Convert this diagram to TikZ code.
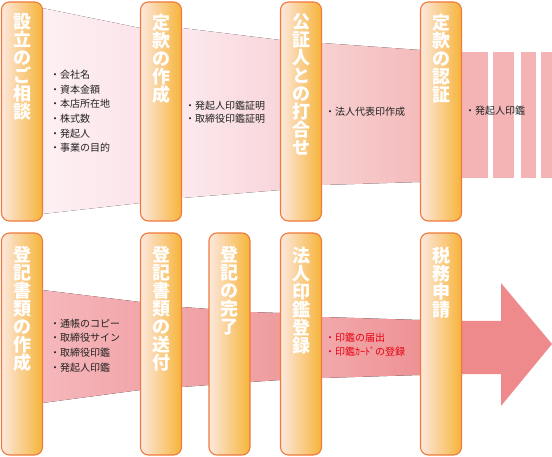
\documentclass[tikz,border=0pt]{standalone}
\usepackage{fontspec}
\setmainfont{Noto Sans CJK JP}
\definecolor{pillarline}{HTML}{EF7A3C}
\definecolor{pillarL}{HTML}{FDE8DE}
\definecolor{pillarR}{HTML}{F6B43A}
\definecolor{listtext}{HTML}{222222}
\definecolor{redtext}{HTML}{E60012}
\definecolor{ta1}{HTML}{FDF0F3}
\definecolor{ta2}{HTML}{FBE4EA}
\definecolor{tb1}{HTML}{FCE9EE}
\definecolor{tb2}{HTML}{F8D6DA}
\definecolor{tc1}{HTML}{F8D0D0}
\definecolor{tc2}{HTML}{F4BBBC}
\definecolor{td}{HTML}{F4B4B6}
\definecolor{ba1}{HTML}{F5B8BC}
\definecolor{ba2}{HTML}{F2A6AA}
\definecolor{bb1}{HTML}{F1A6A8}
\definecolor{bb2}{HTML}{F0A0A4}
\definecolor{bc1}{HTML}{F0A2A4}
\definecolor{bc2}{HTML}{EF9C9E}
\definecolor{bd1}{HTML}{F2A8AA}
\definecolor{bd2}{HTML}{EE9294}
\definecolor{arr}{HTML}{EE8A8C}
\begin{document}
\begin{tikzpicture}[x=1pt,y=-1pt,
  pillar/.style={draw=pillarline, line width=1.1pt, rounded corners=8pt,
    left color=pillarL, right color=pillarR, minimum width=41pt, inner sep=0pt},
  toppillar/.style={pillar, minimum height=219pt},
  botpillar/.style={pillar, minimum height=222pt},
  ptext/.style={anchor=north, inner sep=0pt, align=center, text=white,
    font=\fontsize{18}{18}\selectfont\bfseries},
  list/.style={anchor=west, inner sep=0pt, align=left, text=listtext,
    font=\fontsize{10}{14.6}\selectfont},
  redlist/.style={list, text=redtext, font=\fontsize{10}{14}\selectfont}
]
\useasboundingbox (0,0) rectangle (552,457);
% top band
\fill[left color=ta1, right color=ta2] (42,8) -- (140,28) -- (140,203) -- (42,214) -- cycle;
\fill[left color=tb1, right color=tb2] (182,28) -- (280,40) -- (280,190) -- (182,198) -- cycle;
\fill[left color=tc1, right color=tc2] (322,43) -- (420,50) -- (420,182) -- (322,185) -- cycle;
\fill[td] (462,52) rectangle (488,178);
\fill[td] (493,52) rectangle (514,178);
\fill[td] (521,52) rectangle (536,178);
\fill[td] (541,52) rectangle (552,178);
% bottom band
\fill[left color=ba1, right color=ba2] (42,290) -- (140,302) -- (140,390) -- (42,403) -- cycle;
\fill[left color=bb1, right color=bb2] (182,307) -- (209,309) -- (209,385) -- (182,387) -- cycle;
\fill[left color=bc1, right color=bc2] (250,312) -- (280,313) -- (280,380) -- (250,382) -- cycle;
\fill[left color=bd1, right color=bd2] (322,317) -- (420,320) -- (420,375) -- (322,378) -- cycle;
\fill[arr] (462,321) -- (501,321) -- (501,283) -- (552,344) -- (501,406) -- (501,374) -- (462,374) -- cycle;
% top pillars
\node[toppillar] (p1) at (22,111.5) {};
\node[toppillar] (p2) at (161,111.5) {};
\node[toppillar] (p3) at (301,111.5) {};
\node[toppillar] (p4) at (441,111.5) {};
\node[ptext] (t1) at ([yshift=-12pt]p1.north) {設\\立\\の\\ご\\相\\談};
\node[ptext] (t2) at ([yshift=-12pt]p2.north) {定\\款\\の\\作\\成};
\node[ptext] (t3) at ([yshift=-12pt]p3.north) {公\\証\\人\\と\\の\\打\\合\\せ};
\node[ptext] (t4) at ([yshift=-12pt]p4.north) {定\\款\\の\\認\\証};
% bottom pillars
\node[botpillar] (q1) at (22,344) {};
\node[botpillar] (q2) at (161,344) {};
\node[botpillar] (q3) at (229.5,344) {};
\node[botpillar] (q4) at (301,344) {};
\node[botpillar] (q5) at (441,344) {};
\node[ptext] (u1) at ([yshift=-14pt]q1.north) {登\\記\\書\\類\\の\\作\\成};
\node[ptext] (u2) at ([yshift=-14pt]q2.north) {登\\記\\書\\類\\の\\送\\付};
\node[ptext] (u3) at ([yshift=-14pt]q3.north) {登\\記\\の\\完\\了};
\node[ptext] (u4) at ([yshift=-14pt]q4.north) {法\\人\\印\\鑑\\登\\録};
\node[ptext] (u5) at ([yshift=-14pt]q5.north) {税\\務\\申\\請};
% lists
\node[list] (l1) at (50,111.5) {・会社名\\・資本金額\\・本店所在地\\・株式数\\・発起人\\・事業の目的};
\node[list, font=\fontsize{10}{12.7}\selectfont] (l2) at (185,112.5) {・発起人印鑑証明\\・取締役印鑑証明};
\node[list] (l3) at (325,112) {・法人代表印作成};
\node[list] (l4) at (465,111) {・発起人印鑑};
\node[list] (l5) at (50,345.5) {・通帳のコピー\\・取締役サイン\\・取締役印鑑\\・発起人印鑑};
\node[redlist] (l6) at (325,344.7) {・印鑑の届出\\・印鑑ｶｰﾄﾞの登録};
\end{tikzpicture}
\end{document}
